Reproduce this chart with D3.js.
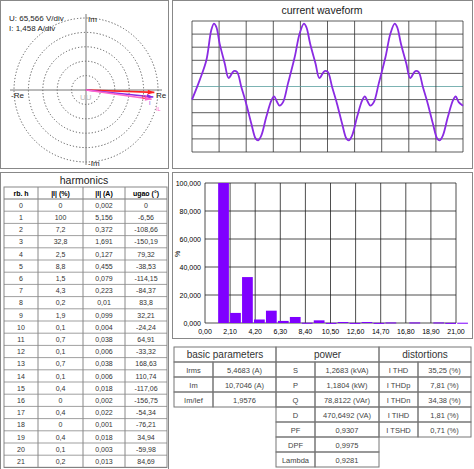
<!DOCTYPE html><html><head><meta charset="utf-8"><script src="https://cdn.jsdelivr.net/npm/d3@7"></script>
<style>body{margin:0;background:#fff}svg{font-family:Arial,"Liberation Sans",sans-serif}</style></head><body>
<script>
const harmH=[0,1,2,3,4,5,6,7,8,9,10,11,12,13,14,15,16,17,18,19,20,21];
const harmPct=["0","100","7,2","32,8","2,5","8,8","1,5","4,3","0,2","1,9","0,1","0,7","0,1","0,7","0,1","0,4","0","0,4","0","0,4","0,1","0,2"];
const harmA=["0,002","5,156","0,372","1,691","0,127","0,455","0,079","0,223","0,01","0,099","0,004","0,038","0,006","0,038","0,006","0,018","0,002","0,022","0,001","0,018","0,003","0,013"];
const harmDeg=["0","-6,56","-108,66","-150,19","79,32","-38,53","-114,15","-84,37","83,8","32,21","-24,24","64,91","-33,32","168,63","110,74","-117,06","-156,75","-54,34","-76,21","34,94","-59,98","84,69"];
const barTicks=["0,00","2,10","4,20","6,30","8,40","10,50","12,60","14,70","16,80","18,90","21,00"];
const yTicks=["0,000","20,000","40,000","60,000","80,000","100,000"];
const waveT=[0,0.28,0.53,0.71,0.81,0.90,1.02,1.21,1.35,1.54,1.66,1.82,2.00,2.19,2.35,2.44,2.56,2.74,2.93,3.03,3.14,3.23,3.36,3.54,3.79,3.97,4.13,4.22,4.36,4.56,4.70,4.89,5.01,5.17,5.35,5.54,5.70,5.79,5.91,6.09,6.28,6.38,6.49,6.58,6.71,6.89,7.14,7.32,7.48,7.57,7.71,7.91,8.05,8.24,8.36,8.52,8.70,8.89,9.05,9.14,9.26,9.44,9.63,9.73,9.84,10.0];
const waveV=[-1.0,0.47,2.0,4.29,4.8,4.54,3.27,1.74,0.65,1.18,1.11,-0.04,-1.31,-2.84,-3.98,-4.11,-3.73,-2.33,-1.06,-0.76,-1.19,-1.46,-1.19,0.22,2.25,4.03,4.8,4.54,3.27,1.74,0.65,1.18,1.11,-0.04,-1.31,-2.84,-3.98,-4.11,-3.73,-2.33,-1.06,-0.76,-1.19,-1.46,-1.19,0.22,2.25,4.03,4.8,4.54,3.27,1.74,0.65,1.18,1.11,-0.04,-1.31,-2.84,-3.98,-4.11,-3.73,-2.33,-1.06,-0.76,-1.19,-1.46];
const phasorName=["U","I","IL"];
const phasorMag=[4.75,4.7,4.6];
const phasorDeg=[-2,-6,-8];
const phasorColor=["#ff2020","#8a2be2","#ff66cc"];
const basicRows=[["Irms","5,4683 (A)"],["Im","10,7046 (A)"],["Im/Ief","1,9576"]];
const powerRows=[["S","1,2683 (kVA)"],["P","1,1804 (kW)"],["Q","78,8122 (VAr)"],["D","470,6492 (VA)"],["PF","0,9307"],["DPF","0,9975"],["Lambda","0,9281"]];
const distRows=[["I THD","35,25 (%)"],["I THDp","7,81 (%)"],["I THDn","34,38 (%)"],["I TIHD","1,81 (%)"],["I TSHD","0,71 (%)"]];

const svg=d3.select("body").append("svg").attr("width",474).attr("height",469);
const panel=(x,y,w,h)=>svg.append("rect").attr("x",x+.5).attr("y",y+.5).attr("width",w).attr("height",h).attr("fill","#fff").attr("stroke","#888");
const PURPLE="#7f00ff";

panel(0,0,168,168);
const cx=86,cy=90;
const rs=d3.scaleLinear().domain([0,5]).range([0,72]);
const g0=svg.append("g");
[1,2,3,4,5].forEach(k=>g0.append("circle").attr("cx",cx).attr("cy",cy).attr("r",rs(k)).attr("fill","none").attr("stroke","#555").attr("stroke-dasharray","1.2,2"));
g0.append("line").attr("x1",10).attr("x2",162).attr("y1",cy).attr("y2",cy).attr("stroke","#777");
g0.append("line").attr("x1",cx).attr("x2",cx).attr("y1",14).attr("y2",165).attr("stroke","#777");
const sm=(t,x,y,a,c)=>svg.append("text").text(t).attr("x",x).attr("y",y).attr("font-size",8).attr("text-anchor",a||"start").attr("fill",c||"#222");
sm("U: 65,566  V/div",9,21);sm("I:  1,458  A/div",9,31);
sm("Im",88,22);sm("-Im",88,166);sm("-Re",11,98);sm("Re",156,98);sm("UU",80,100,"start","#bbb");
phasorName.forEach((n,i)=>{const a=phasorDeg[i]*Math.PI/180,r=rs(phasorMag[i]);
 const x2=cx+r*Math.cos(a),y2=cy-r*Math.sin(a);
 g0.append("line").attr("x1",cx).attr("y1",cy).attr("x2",x2).attr("y2",y2).attr("stroke",phasorColor[i]).attr("stroke-width",1.6);
 const ha=Math.atan2(y2-cy,x2-cx);
 g0.append("path").attr("d",`M${x2},${y2}L${x2-7*Math.cos(ha-0.35)},${y2-7*Math.sin(ha-0.35)}L${x2-7*Math.cos(ha+0.35)},${y2-7*Math.sin(ha+0.35)}Z`).attr("fill",phasorColor[i]);
 sm(n,142+i*7,cy+9+i*6,"start",phasorColor[i]).attr("font-size",5.5);
});

panel(172,0,300,168);
svg.append("text").text("current waveform").attr("x",322).attr("y",14).attr("text-anchor","middle").attr("font-size",10.5).attr("fill","#222");
const wx=d3.scaleLinear().domain([0,10]).range([192,463]);
const wy=d3.scaleLinear().domain([-5,5]).range([152,21]);
const gw=svg.append("g");
d3.range(11).forEach(k=>{gw.append("line").attr("x1",wx(k)).attr("x2",wx(k)).attr("y1",wy(-5)).attr("y2",wy(5)).attr("stroke","#333").attr("stroke-width",0.8);
 gw.append("line").attr("y1",wy(k-5)).attr("y2",wy(k-5)).attr("x1",wx(0)).attr("x2",wx(10)).attr("stroke",k==5?"#5aa0a0":"#333").attr("stroke-width",0.8);});
gw.append("path").datum(waveT.map((t,i)=>[t,waveV[i]])).attr("d",d3.line().x(d=>wx(d[0])).y(d=>wy(d[1])).curve(d3.curveCatmullRom)).attr("fill","none").attr("stroke","#8a2be2").attr("stroke-width",1.8);

panel(0,172,168,297);
svg.append("text").text("harmonics").attr("x",84).attr("y",184).attr("text-anchor","middle").attr("font-size",10.5).attr("fill","#222");
const colX=[4,38,83,125,167];
const rowY=d3.scaleLinear().domain([0,1]).range([199,211.2]);
const gt=svg.append("g");
gt.append("rect").attr("x",4).attr("y",187).attr("width",163).attr("height",rowY(22)-187).attr("fill","none").attr("stroke","#888");
["rb. h","|I| (%)","|I| (A)","ugao (°)"].forEach((h,j)=>gt.append("text").text(h).attr("x",(colX[j]+colX[j+1])/2).attr("y",196).attr("text-anchor","middle").attr("font-size",7).attr("font-weight","bold"));
d3.range(23).forEach(r=>gt.append("line").attr("x1",4).attr("x2",167).attr("y1",rowY(r)).attr("y2",rowY(r)).attr("stroke","#777").attr("stroke-width",r==0?1:0.7));
colX.slice(1,4).forEach(x=>gt.append("line").attr("x1",x).attr("x2",x).attr("y1",187).attr("y2",rowY(22)).attr("stroke","#888"));
harmH.forEach((h,i)=>{[String(h),harmPct[i],harmA[i],harmDeg[i]].forEach((v,j)=>gt.append("text").text(v).attr("x",(colX[j]+colX[j+1])/2).attr("y",rowY(i)+8.8).attr("text-anchor","middle").attr("font-size",7).attr("fill","#333"));});

panel(172,172,300,166);
const bx=d3.scaleLinear().domain([0,21]).range([205,456]);
const by=d3.scaleLinear().domain([0,100]).range([323,183]);
const gb=svg.append("g");
barTicks.forEach((t,i)=>{const v=i*2.1;gb.append("line").attr("x1",bx(v)).attr("x2",bx(v)).attr("y1",by(0)).attr("y2",by(100)).attr("stroke","#222").attr("stroke-width",0.8);
 gb.append("text").text(t).attr("x",bx(v)).attr("y",334).attr("text-anchor","middle").attr("font-size",7);});
yTicks.forEach((t,i)=>{const v=i*20;gb.append("line").attr("x1",bx(0)).attr("x2",bx(21)).attr("y1",by(v)).attr("y2",by(v)).attr("stroke","#222").attr("stroke-width",0.8);
 gb.append("text").text(t).attr("x",201).attr("y",by(v)+3).attr("text-anchor","end").attr("font-size",7);});
gb.append("text").text("%").attr("transform","translate(180,254) rotate(-90)").attr("font-size",7).attr("text-anchor","middle");
harmH.forEach((h,i)=>{const v=+harmPct[i].replace(",",".");if(h<1||v<=0)return;
 gb.append("rect").attr("x",bx(h+0.1)).attr("width",bx(h+1)-bx(h+0.1)).attr("y",by(v)).attr("height",Math.max(1,by(0)-by(v))).attr("fill",PURPLE);});

const rh=15,tblTop=347;
function tbl(x0,x1,x2,title,rows){
 const g=svg.append("g");
 g.append("rect").attr("x",x0).attr("y",tblTop).attr("width",x2-x0).attr("height",rh).attr("fill","none").attr("stroke","#777");
 g.append("text").text(title).attr("x",(x0+x2)/2).attr("y",tblTop+11).attr("text-anchor","middle").attr("font-size",10).attr("fill","#333");
 rows.forEach((r,i)=>{const y=tblTop+rh*(i+1);
  g.append("rect").attr("x",x0).attr("y",y).attr("width",x1-x0).attr("height",rh).attr("fill","none").attr("stroke","#777");
  g.append("rect").attr("x",x1).attr("y",y).attr("width",x2-x1).attr("height",rh).attr("fill","none").attr("stroke","#777");
  g.append("text").text(r[0]).attr("x",(x0+x1)/2).attr("y",y+10.5).attr("text-anchor","middle").attr("font-size",7.5).attr("fill","#444");
  g.append("text").text(r[1]).attr("x",(x1+x2)/2).attr("y",y+10.5).attr("text-anchor","middle").attr("font-size",7.5).attr("fill","#444");});
}
tbl(174,213,276,"basic parameters",basicRows);
tbl(276,315,379,"power",powerRows);
tbl(379,418,471,"distortions",distRows);
</script></body></html>
